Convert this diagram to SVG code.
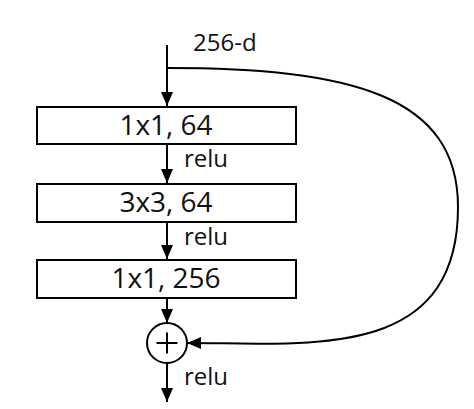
<svg xmlns="http://www.w3.org/2000/svg" width="474" height="409" viewBox="0 0 474 409">
<defs>
<marker id="ah" markerUnits="userSpaceOnUse" markerWidth="14" markerHeight="12" refX="14" refY="6" orient="auto">
<path d="M0,0 L14,6 L0,12 z" fill="#000"/>
</marker>
<style>
.box{fill:#fff;stroke:#000;stroke-width:2}
.lbl{font-family:"Open Sans","Noto Sans",sans-serif;font-size:28px;fill:#111;text-anchor:middle}
.relu{font-family:"Open Sans","Noto Sans",sans-serif;font-size:24px;fill:#111}
.ln{fill:none;stroke:#000;stroke-width:2}
</style>
</defs>
<rect width="474" height="409" fill="#fff"/>
<g id="connectors">
<line class="ln" x1="167" y1="45" x2="167" y2="106" marker-end="url(#ah)"/>
<line class="ln" x1="167" y1="144" x2="167" y2="183" marker-end="url(#ah)"/>
<line class="ln" x1="167" y1="222" x2="167" y2="259" marker-end="url(#ah)"/>
<line class="ln" x1="167" y1="298" x2="167" y2="323" marker-end="url(#ah)"/>
<line class="ln" x1="167" y1="363" x2="167" y2="402" marker-end="url(#ah)"/>
<path class="ln" d="M167,68 C350,68 458,95 458,207 C458,362 310,343 187,343" marker-end="url(#ah)"/>
<text class="relu" x="193" y="51" font-size="25">256-d</text>
<text class="relu" x="184" y="167">relu</text>
<text class="relu" x="184" y="245">relu</text>
<text class="relu" x="184" y="385">relu</text>
</g>
<g id="conv1">
<rect class="box" x="37" y="107" width="259" height="37"/>
<text class="lbl" x="166" y="135">1x1, 64</text>
</g>
<g id="conv2">
<rect class="box" x="37" y="184" width="259" height="38"/>
<text class="lbl" x="166" y="212">3x3, 64</text>
</g>
<g id="conv3">
<rect class="box" x="37" y="260" width="259" height="38"/>
<text class="lbl" x="166" y="288">1x1, 256</text>
</g>
<g id="add">
<circle cx="167" cy="343" r="20" fill="#fff" stroke="#000" stroke-width="2"/>
<line x1="156.5" y1="343" x2="177.5" y2="343" stroke="#000" stroke-width="2"/>
<line x1="167" y1="332.5" x2="167" y2="353.5" stroke="#000" stroke-width="2"/>
</g>
</svg>
